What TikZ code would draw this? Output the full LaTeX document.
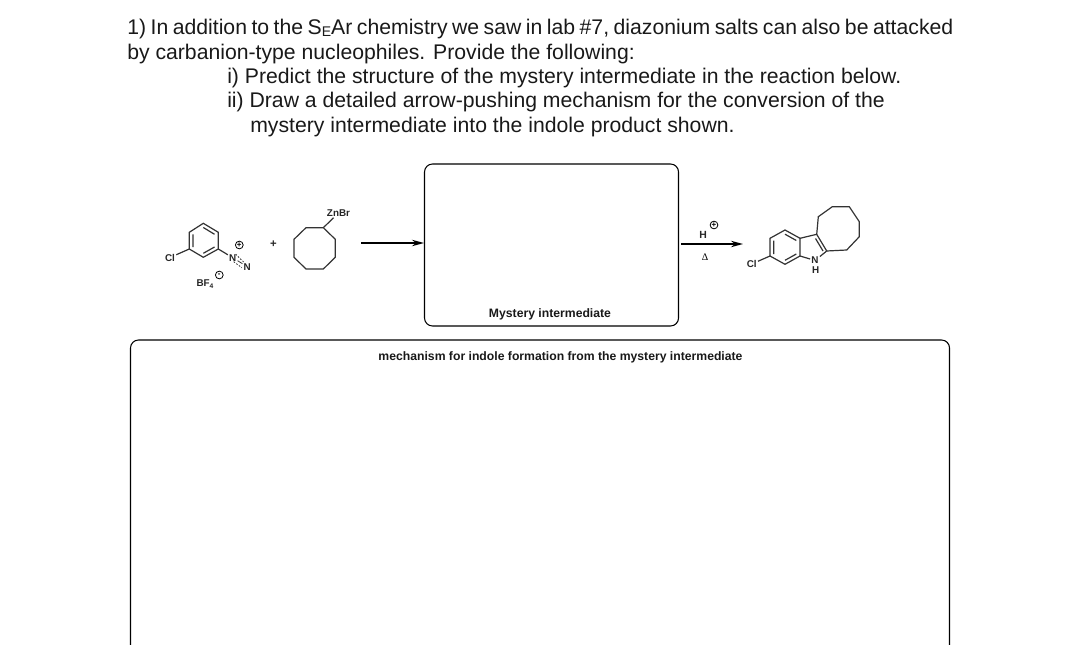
\documentclass[tikz,border=0pt]{standalone}
\usepackage{fontspec}
\setmainfont{Liberation Sans}
\newfontfamily\deltafont{Liberation Serif}
\usetikzlibrary{positioning,calc,arrows.meta}
\tikzset{
    prompt/.style={anchor=base west, inner sep=0pt, font=\fontsize{15.9}{18}\selectfont, text=black!90},
    caption/.style={inner sep=0pt, font=\bfseries\fontsize{9.15}{10}\selectfont, text=black!90},
    atom/.style={inner sep=0pt, outer sep=1pt, font=\bfseries\fontsize{7.4}{8}\selectfont, text=black!85},
    chg/.style={circle, draw, line width=0.6pt, inner sep=0pt, minimum size=5.8pt, font=\bfseries\fontsize{6}{5}\selectfont},
    bond/.style={line width=0.9pt, black!80},
    rxn/.style={line width=1.1pt, -{Stealth[length=9pt, width=4.8pt]}},
    box/.style={draw, line width=0.8pt, rounded corners=6pt}
}
\begin{document}
\begin{tikzpicture}[x=0.75pt, y=-0.75pt]
    \useasboundingbox (0,0) rectangle (1080,645);
    % question text
    \node[prompt] (lineone) at (127,35) {\spaceskip=3.38pt 1) In addition to the S\raisebox{-0.15ex}{\fontsize{10.5}{12}\selectfont E}Ar chemistry we saw in lab \#7, diazonium salts can also be attacked};
    \node[prompt] (linetwo) at (127,60) {by carbanion-type nucleophiles. Provide the following:};
    \node[prompt] (linethree) at (227,84) {i) Predict the structure of the mystery intermediate in the reaction below.};
    \node[prompt] (linefour) at (227,108) {ii) Draw a detailed arrow-pushing mechanism for the conversion of the};
    \node[prompt] (linefive) at (250,133) {mystery intermediate into the indole product shown.};
    % boxes
    \draw[box] (424.5,164) rectangle (678.5,326);
    \coordinate (mysteryleft) at (424,243);
    \node[caption] (mysterylabel) at (550,314) {Mystery intermediate};
    \draw[box] (130.5,645) -- (130.5,340) -- (949.5,340) -- (949.5,645);
    \node[caption] (mechlabel) at (560.5,357) {mechanism for indole formation from the mystery intermediate};
    % diazonium salt
    \draw[bond] (203.3,223.3) -- (218.3,232.3) -- (218.3,249) -- (203.3,257.3) -- (189.3,249) -- (189.3,232.3) -- cycle;
    \draw[bond] (203.3,227.5) -- (214.5,234.3) (214.5,247) -- (203.3,253.3) (193,247) -- (193,234.3);
    \node[atom] (cla) at (170,257.5) {Cl};
    \node[atom] (na) at (232.7,257.7) {N};
    \node[atom] (nb) at (247.3,266.7) {N};
    \draw[bond] (189.3,249) -- (cla);
    \draw[bond] (218.3,249) -- (na);
    \draw[bond, line width=0.6pt] (na) -- (nb);
    \draw[bond, line width=0.6pt, dash pattern=on 1.2pt off 1.2pt] ([shift={(3,-3.5)}]na.center) -- ([shift={(-3,-4)}]nb.center);
    \draw[bond, line width=0.6pt, dash pattern=on 1.2pt off 1.2pt] ([shift={(1,4)}]na.center) -- ([shift={(-5.5,1)}]nb.center);
    \node[chg] (plusa) at (239.3,245) {+};
    \node[atom] (bf) at (205,284) {BF\raisebox{-0.3ex}{\fontsize{5}{5}\selectfont 4}};
    \node[chg] (minusa) at (219.3,275) {-};
    \node[atom, font=\bfseries\fontsize{8.5}{9}\selectfont] (plusb) at (273.5,244.5) {+};
    % cyclooctyl zinc
    \draw[bond] (323.3,227.7) -- (335.3,239.3) -- (335.3,257.3) -- (323.3,269) -- (306,269) -- (294,257.3) -- (294,239.3) -- (306,227.7) -- cycle;
    \node[atom] (znbr) at (338.5,213) {ZnBr};
    \draw[bond] (323.3,227.7) -- (znbr);
    % arrows
    \coordinate (arrowa) at (361,243);
    \draw[rxn] (arrowa) -- (mysteryleft);
    \coordinate (arrowb) at (681,244);
    \coordinate (arrowc) at (743,244);
    \draw[rxn] (arrowb) -- (arrowc);
    \node[atom, font=\bfseries\fontsize{7.8}{8}\selectfont] (acid) at (703,235) {H};
    \node[chg] (plusc) at (714,225) {+};
    \node[inner sep=0pt, font=\deltafont\fontsize{7.5}{8}\selectfont] (heat) at (705,257) {Δ};
    % indole product
    \draw[bond] (785,230) -- (800,238.3) -- (800,256) -- (785,264.3) -- (770,256) -- (770,238.3) -- cycle;
    \draw[bond] (785,234.2) -- (796.3,240.5) (796.3,254) -- (785,260.3) (773.7,254) -- (773.7,240.5);
    \node[atom] (clb) at (751.7,264) {Cl};
    \node[atom] (nh) at (815,260.5) {N};
    \node[atom] (hn) at (815.7,270) {H};
    \draw[bond] (770,256) -- (clb);
    \draw[bond] (800,238.3) -- (816.7,234.3) -- (826.7,251) -- (nh) -- (800,256);
    \draw[bond] (815.5,238.5) -- (823,251);
    \draw[bond] (816.7,234.3) -- (818.3,216.7) -- (832.3,206.7) -- (849.3,206.7) -- (859.3,221.7) -- (859.3,236.7) -- (846.7,250) -- (826.7,251);
\end{tikzpicture}
\end{document}
